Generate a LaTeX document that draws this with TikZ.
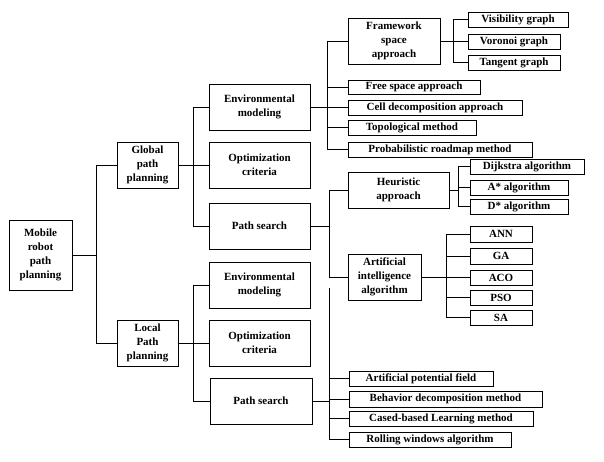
\documentclass[tikz,border=0pt]{standalone}
\usepackage{fontspec}
\setmainfont{Liberation Serif}
\begin{document}
\begin{tikzpicture}[x=1pt,y=-1pt,
 b/.style={draw,line width=0.8pt,align=center,inner sep=0pt,font=\fontsize{11}{14}\selectfont\bfseries},
 ln/.style={line width=0.7pt}]
\useasboundingbox (0,0) rectangle (604,461);
\def\bx#1#2#3#4#5#6{\node[b,minimum width=#4-#2,minimum height=#5-#3] (#1) at ({(#2+#4)/2},{(#3+#5)/2}) {#6};}
\bx{mob}{9}{220}{72}{290}{Mobile\\robot\\path\\planning}
\bx{glo}{117}{142}{178}{188}{Global\\path\\planning}
\bx{loc}{117}{320}{178}{366}{Local\\Path\\planning}
\bx{env1}{209}{84}{310}{130}{Environmental\\modeling}
\bx{opt1}{209}{142}{310}{188}{Optimization\\criteria}
\bx{ps1}{209}{203}{310}{249}{Path search}
\bx{env2}{209}{262}{310}{308}{Environmental\\modeling}
\bx{opt2}{209}{320}{310}{366}{Optimization\\criteria}
\bx{ps2}{210}{378}{312}{424}{Path search}
\bx{fw}{348}{18}{440}{64}{Framework\\space\\approach}
\bx{vis}{468}{12}{568}{27}{Visibility graph}
\bx{vor}{468}{34}{560}{49}{Voronoi graph}
\bx{tan}{468}{55}{560}{70}{Tangent graph}
\bx{free}{348}{80}{480}{94}{Free space approach}
\bx{cell}{348}{100}{522}{115}{Cell decomposition approach}
\bx{topo}{348}{120}{476}{135}{Topological method}
\bx{prob}{348}{142}{532}{157}{Probabilistic roadmap method}
\bx{heu}{348}{172}{449}{208}{Heuristic\\approach}
\bx{dij}{470}{159}{584}{174}{Dijkstra algorithm}
\bx{ast}{470}{180}{568}{195}{A* algorithm}
\bx{dst}{470}{199}{568}{214}{D* algorithm}
\bx{ai}{348}{254}{421}{300}{Artificial\\intelligence\\algorithm}
\bx{ann}{470}{226}{532}{242}{ANN}
\bx{ga}{470}{248}{532}{264}{GA}
\bx{aco}{470}{270}{532}{285}{ACO}
\bx{pso}{470}{290}{532}{305}{PSO}
\bx{sa}{470}{310}{532}{325}{SA}
\bx{apf}{349}{371}{493}{386}{Artificial potential field}
\bx{bdm}{349}{391}{542}{407}{Behavior decomposition method}
\bx{cbl}{349}{411}{533}{426}{Cased-based Learning method}
\bx{rwa}{349}{432}{511}{447}{Rolling windows algorithm}
\coordinate (T0) at (96,0);
\coordinate (T1) at (193,0);
\coordinate (T2) at (327,0);
\coordinate (T3) at (453,0);
\coordinate (T4) at (329,0);
\coordinate (T5) at (458,0);
\coordinate (T6) at (446,0);
\coordinate (T7) at (329,288);
\begin{scope}[ln]
\draw (mob.east) -- (mob.east -| T0);
\draw (glo.west) -- (glo.west -| T0) |- (loc.west);
\draw (glo.east) -- (glo.east -| T1);
\draw (env1.west) -- (env1.west -| T1) |- (ps1.west);
\draw (opt1.west) -- (opt1.west -| T1);
\draw (loc.east) -- (loc.east -| T1);
\draw (env2.west) -- (env2.west -| T1) |- (ps2.west);
\draw (opt2.west) -- (opt2.west -| T1);
\draw (env1.east) -- (env1.east -| T2);
\draw (fw.west) -- (fw.west -| T2) |- (prob.west);
\foreach \n in {free,cell,topo}{\draw (\n.west) -- (\n.west -| T2);}
\draw (fw.east) -- (fw.east -| T3);
\draw (vis.west) -- (vis.west -| T3) |- (tan.west);
\draw (vor.west) -- (vor.west -| T3);
\draw (ps1.east) -- (ps1.east -| T4);
\draw (heu.west) -- (heu.west -| T4) |- (ai.west);
\draw (heu.east) -- (heu.east -| T5);
\draw (dij.west) -- (dij.west -| T5) |- (dst.west);
\draw (ast.west) -- (ast.west -| T5);
\draw (ai.east) -- (ai.east -| T6);
\draw (ann.west) -- (ann.west -| T6) |- (sa.west);
\foreach \n in {ga,aco,pso}{\draw (\n.west) -- (\n.west -| T6);}
\draw (T7) |- (rwa.west);
\draw (ps2.east) -- (ps2.east -| T7);
\foreach \n in {apf,bdm,cbl}{\draw (\n.west) -- (\n.west -| T7);}
\end{scope}
\end{tikzpicture}
\end{document}
